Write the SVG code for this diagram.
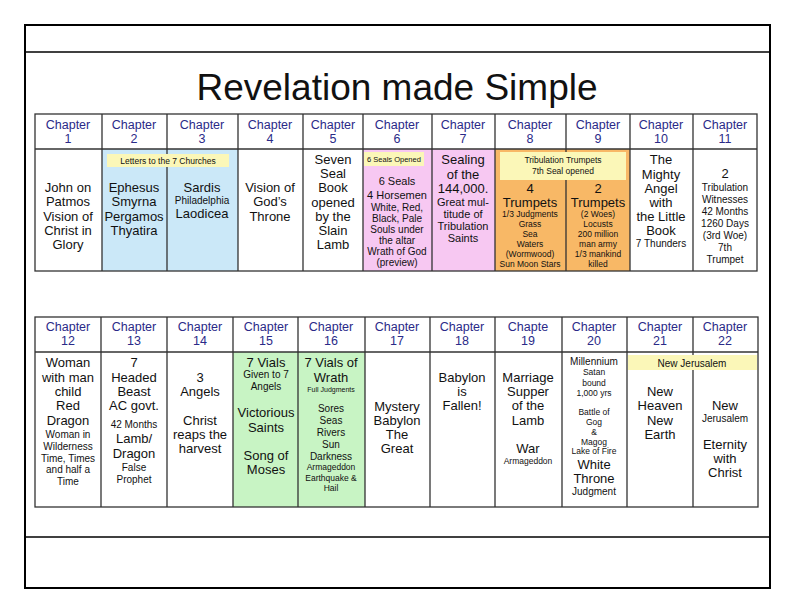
<svg xmlns="http://www.w3.org/2000/svg" width="794" height="614" viewBox="0 0 794 614">
<style>
text{font-family:"Liberation Sans",Arial,sans-serif;text-anchor:middle;dominant-baseline:central;fill:#111}
.h{font-size:12.5px;fill:#2a2a88}
.b{font-size:13px}
.m{font-size:10px}
.s{font-size:8.5px}
.g{fill:none;stroke:#333;stroke-width:1.3}
.y{fill:#fbf7b8}
</style>
<rect width="794" height="614" fill="#fff"/>
<rect x="25" y="25" width="745" height="563" fill="none" stroke="#000" stroke-width="2"/>
<line x1="25" y1="52" x2="770" y2="52" stroke="#000" stroke-width="1.5"/>
<line x1="25" y1="537" x2="770" y2="537" stroke="#000" stroke-width="1.5"/>
<text x="397" y="87" style="font-size:37px">Revelation made Simple</text>

<g id="top">
<rect x="102" y="149" width="136" height="122" fill="#cbe8f8"/>
<rect x="363" y="149" width="132" height="122" fill="#f7c8f2"/>
<rect x="495" y="149" width="135" height="122" fill="#f8b866"/>
<rect x="35" y="114" width="722" height="157" class="g"/>
<line x1="35" y1="149" x2="757" y2="149" class="g"/>
<g class="g"><path d="M102 114V271M167 114V271M238 114V271M303 114V271M363 114V271M432 114V271M495 114V271M566 114V271M630 114V271M693 114V271"/></g>
<rect x="107" y="154" width="122" height="13" class="y"/>
<rect x="364" y="152" width="60" height="14" class="y"/>
<rect x="500" y="152" width="126" height="28" class="y"/>
</g>
<g id="top-headers">
<text class="h" x="68" y="125">Chapter</text><text class="h" x="68" y="139">1</text>
<text class="h" x="134" y="125">Chapter</text><text class="h" x="134" y="139">2</text>
<text class="h" x="202" y="125">Chapter</text><text class="h" x="202" y="139">3</text>
<text class="h" x="270" y="125">Chapter</text><text class="h" x="270" y="139">4</text>
<text class="h" x="333" y="125">Chapter</text><text class="h" x="333" y="139">5</text>
<text class="h" x="397" y="125">Chapter</text><text class="h" x="397" y="139">6</text>
<text class="h" x="463" y="125">Chapter</text><text class="h" x="463" y="139">7</text>
<text class="h" x="530" y="125">Chapter</text><text class="h" x="530" y="139">8</text>
<text class="h" x="598" y="125">Chapter</text><text class="h" x="598" y="139">9</text>
<text class="h" x="661" y="125">Chapter</text><text class="h" x="661" y="139">10</text>
<text class="h" x="725" y="125">Chapter</text><text class="h" x="725" y="139">11</text>
</g>
<g id="ch1"><text class="b" x="68" y="187">John on</text><text class="b" x="68" y="201">Patmos</text><text class="b" x="68" y="216">Vision of</text><text class="b" x="68" y="230">Christ in</text><text class="b" x="68" y="244">Glory</text></g>
<g id="ch2-3"><text class="s" x="168" y="160.5">Letters to the 7 Churches</text>
<text class="b" x="134" y="187">Ephesus</text><text class="b" x="134" y="201">Smyrna</text><text class="b" x="134" y="216">Pergamos</text><text class="b" x="134" y="230">Thyatira</text>
<text class="b" x="202" y="187">Sardis</text><text class="m" x="202" y="200">Philadelphia</text><text class="b" x="202" y="213">Laodicea</text></g>
<g id="ch4"><text class="b" x="270" y="187">Vision of</text><text class="b" x="270" y="201">God’s</text><text class="b" x="270" y="216">Throne</text></g>
<g id="ch5"><text class="b" x="333" y="159">Seven</text><text class="b" x="333" y="173">Seal</text><text class="b" x="333" y="187">Book</text><text class="b" x="333" y="202">opened</text><text class="b" x="333" y="216">by the</text><text class="b" x="333" y="230">Slain</text><text class="b" x="333" y="244">Lamb</text></g>
<g id="ch6"><text class="s" x="394" y="159" style="font-size:7.5px">6 Seals Opened</text>
<text class="m" x="397" y="181" style="font-size:11px">6 Seals</text><text class="m" x="397" y="195" style="font-size:11px">4 Horsemen</text>
<text class="m" x="397" y="207">White, Red,</text><text class="m" x="397" y="218">Black, Pale</text><text class="m" x="397" y="229">Souls under</text><text class="m" x="397" y="240">the altar</text><text class="m" x="397" y="251">Wrath of God</text><text class="m" x="397" y="262">(preview)</text></g>
<g id="ch7"><text class="b" x="463" y="159">Sealing</text><text class="b" x="463" y="174">of the</text><text class="b" x="463" y="188">144,000.</text><text class="m" x="463" y="202" style="font-size:11px">Great mul-</text><text class="m" x="463" y="214" style="font-size:11px">titude of</text><text class="m" x="463" y="226" style="font-size:11px">Tribulation</text><text class="m" x="463" y="238" style="font-size:11px">Saints</text></g>
<g id="ch8-9"><text class="s" x="563" y="160">Tribulation Trumpets</text><text class="s" x="563" y="171">7th Seal opened</text>
<text class="b" x="530" y="188">4</text><text class="b" x="530" y="202">Trumpets</text><text class="s" x="530" y="214">1/3 Judgments</text><text class="s" x="530" y="224">Grass</text><text class="s" x="530" y="234">Sea</text><text class="s" x="530" y="244">Waters</text><text class="s" x="530" y="254">(Wormwood)</text><text class="s" x="530" y="264">Sun Moon Stars</text>
<text class="b" x="598" y="188">2</text><text class="b" x="598" y="202">Trumpets</text><text class="s" x="598" y="214">(2 Woes)</text><text class="s" x="598" y="224">Locusts</text><text class="s" x="598" y="234">200 million</text><text class="s" x="598" y="244">man army</text><text class="s" x="598" y="254">1/3 mankind</text><text class="s" x="598" y="264">killed</text></g>
<g id="ch10"><text class="b" x="661" y="159">The</text><text class="b" x="661" y="174">Mighty</text><text class="b" x="661" y="188">Angel</text><text class="b" x="661" y="202">with</text><text class="b" x="661" y="216">the Little</text><text class="b" x="661" y="230">Book</text><text class="m" x="661" y="243">7 Thunders</text></g>
<g id="ch11"><text class="b" x="725" y="173">2</text><text class="m" x="725" y="187">Tribulation</text><text class="m" x="725" y="199">Witnesses</text><text class="m" x="725" y="211">42 Months</text><text class="m" x="725" y="223">1260 Days</text><text class="m" x="725" y="235">(3rd Woe)</text><text class="m" x="725" y="247">7th</text><text class="m" x="725" y="259">Trumpet</text></g>

<g id="bottom">
<rect x="233" y="352" width="132" height="155" fill="#c8f4c4"/>
<rect x="35" y="317" width="723" height="190" class="g"/>
<line x1="35" y1="352" x2="758" y2="352" class="g"/>
<g class="g"><path d="M101 317V507M167 317V507M233 317V507M298 317V507M365 317V507M430 317V507M495 317V507M562 317V507M627 317V507M693 317V507"/></g>
<rect x="628" y="355" width="129" height="15" class="y"/>
</g>
<g id="bottom-headers">
<text class="h" x="68" y="327">Chapter</text><text class="h" x="68" y="341">12</text>
<text class="h" x="134" y="327">Chapter</text><text class="h" x="134" y="341">13</text>
<text class="h" x="200" y="327">Chapter</text><text class="h" x="200" y="341">14</text>
<text class="h" x="266" y="327">Chapter</text><text class="h" x="266" y="341">15</text>
<text class="h" x="331" y="327">Chapter</text><text class="h" x="331" y="341">16</text>
<text class="h" x="397" y="327">Chapter</text><text class="h" x="397" y="341">17</text>
<text class="h" x="462" y="327">Chapter</text><text class="h" x="462" y="341">18</text>
<text class="h" x="528" y="327">Chapte</text><text class="h" x="528" y="341">19</text>
<text class="h" x="594" y="327">Chapter</text><text class="h" x="594" y="341">20</text>
<text class="h" x="660" y="327">Chapter</text><text class="h" x="660" y="341">21</text>
<text class="h" x="725" y="327">Chapter</text><text class="h" x="725" y="341">22</text>
</g>
<g id="ch12"><text class="b" x="68" y="362">Woman</text><text class="b" x="68" y="377">with man</text><text class="b" x="68" y="391">child</text><text class="b" x="68" y="405">Red</text><text class="b" x="68" y="420">Dragon</text><text class="m" x="68" y="434">Woman in</text><text class="m" x="68" y="446">Wilderness</text><text class="m" x="68" y="458">Time, Times</text><text class="m" x="68" y="469">and half a</text><text class="m" x="68" y="481">Time</text></g>
<g id="ch13"><text class="b" x="134" y="362">7</text><text class="b" x="134" y="377">Headed</text><text class="b" x="134" y="391">Beast</text><text class="b" x="134" y="405">AC govt.</text><text class="m" x="134" y="424">42 Months</text><text class="b" x="134" y="438">Lamb/</text><text class="b" x="134" y="453">Dragon</text><text class="m" x="134" y="467">False</text><text class="m" x="134" y="479">Prophet</text></g>
<g id="ch14"><text class="b" x="200" y="377">3</text><text class="b" x="200" y="391">Angels</text><text class="b" x="200" y="420">Christ</text><text class="b" x="200" y="434">reaps the</text><text class="b" x="200" y="448">harvest</text></g>
<g id="ch15"><text class="b" x="266" y="362">7 Vials</text><text class="m" x="266" y="374">Given to 7</text><text class="m" x="266" y="386">Angels</text><text class="b" x="266" y="412">Victorious</text><text class="b" x="266" y="427">Saints</text><text class="b" x="266" y="455">Song of</text><text class="b" x="266" y="469">Moses</text></g>
<g id="ch16"><text class="b" x="331" y="362">7 Vials of</text><text class="b" x="331" y="377">Wrath</text><text class="s" x="331" y="389" style="font-size:7px">Full Judgments</text><text class="m" x="331" y="408">Sores</text><text class="m" x="331" y="420">Seas</text><text class="m" x="331" y="432">Rivers</text><text class="m" x="331" y="444">Sun</text><text class="m" x="331" y="456">Darkness</text><text class="s" x="331" y="467">Armageddon</text><text class="s" x="331" y="478">Earthquake &amp;</text><text class="s" x="331" y="488">Hail</text></g>
<g id="ch17"><text class="b" x="397" y="406">Mystery</text><text class="b" x="397" y="420">Babylon</text><text class="b" x="397" y="434">The</text><text class="b" x="397" y="448">Great</text></g>
<g id="ch18"><text class="b" x="462" y="377">Babylon</text><text class="b" x="462" y="391">is</text><text class="b" x="462" y="405">Fallen!</text></g>
<g id="ch19"><text class="b" x="528" y="377">Marriage</text><text class="b" x="528" y="391">Supper</text><text class="b" x="528" y="405">of the</text><text class="b" x="528" y="420">Lamb</text><text class="b" x="528" y="448">War</text><text class="s" x="528" y="461">Armageddon</text></g>
<g id="ch20"><text class="m" x="594" y="361">Millennium</text><text class="s" x="594" y="372">Satan</text><text class="s" x="594" y="383">bound</text><text class="s" x="594" y="393">1,000 yrs</text><text class="s" x="594" y="412">Battle of</text><text class="s" x="594" y="422">Gog</text><text class="s" x="594" y="432">&amp;</text><text class="s" x="594" y="442">Magog</text><text class="s" x="594" y="451">Lake of Fire</text><text class="b" x="594" y="464">White</text><text class="b" x="594" y="478">Throne</text><text class="m" x="594" y="491">Judgment</text></g>
<g id="ch21-22"><text class="m" x="692" y="363">New Jerusalem</text>
<text class="b" x="660" y="391">New</text><text class="b" x="660" y="405">Heaven</text><text class="b" x="660" y="420">New</text><text class="b" x="660" y="434">Earth</text>
<text class="b" x="725" y="405">New</text><text class="m" x="725" y="418">Jerusalem</text><text class="b" x="725" y="444">Eternity</text><text class="b" x="725" y="458">with</text><text class="b" x="725" y="472">Christ</text></g>
</svg>
